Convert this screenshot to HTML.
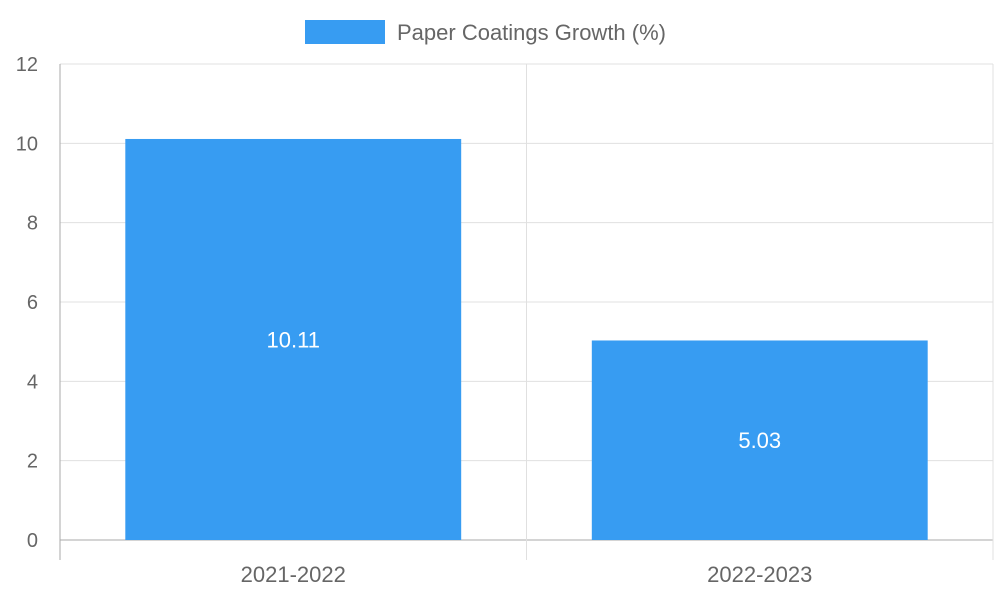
<!DOCTYPE html>
<html><head><meta charset="utf-8"><style>
body{margin:0;background:#fff;font-family:"Liberation Sans",sans-serif;}
svg{display:block}
</style></head><body>
<svg id="chart" width="1000" height="600"></svg>
<script>
const categories=["2021-2022","2022-2023"];
const values=[10.11,5.03];
const yTicks=[0,2,4,6,8,10,12];
const seriesName="Paper Coatings Growth (%)";
const NS="http://www.w3.org/2000/svg";
const svg=document.getElementById('chart');
const L=60,R=993,T=64,B=540,yMax=12;
const y=v=>B-(v/yMax)*(B-T);
const catW=(R-L)/categories.length;
const x=i=>L+catW*i;
function mk(tag,attrs,parent){const e=document.createElementNS(NS,tag);for(const k in attrs)e.setAttribute(k,attrs[k]);(parent||svg).appendChild(e);return e;}
// grid
yTicks.forEach(t=>{
  const g=mk('line',{x1:L,x2:R,y1:y(t),y2:y(t),stroke:t===0?'#aaa':'#e0e0e0','stroke-width':1});
  
  
  const tx=mk('text',{x:L-22,y:y(t)+7,'text-anchor':'end','font-size':20,fill:'#666'});
  tx.textContent=t;
  
  
});
for(let i=0;i<=categories.length;i++){
  const g=mk('line',{x1:x(i),x2:x(i),y1:T,y2:B+20,stroke:i===0?'#aaa':'#e0e0e0','stroke-width':1});
  
  
}
categories.forEach((c,i)=>{
  const bw=catW*0.72,bx=x(i)+(catW-bw)/2;
  const r=mk('rect',{x:bx,y:y(values[i]),width:bw,height:B-y(values[i]),fill:'#379cf2'});
  
  
  const v=mk('text',{x:bx+bw/2,y:(y(values[i])+B)/2+8,'text-anchor':'middle','font-size':22,fill:'#fff'});
  v.textContent=values[i];
  
  
  const l=mk('text',{x:x(i)+catW/2,y:582,'text-anchor':'middle','font-size':22,fill:'#666'});
  l.textContent=c;
  
  
});
const lg=mk('g',{});


mk('rect',{x:305,y:20,width:80,height:24,fill:'#379cf2'},lg);
const lt=mk('text',{x:397,y:40,'font-size':22,fill:'#666'},lg);
lt.textContent=seriesName;
</script>
</body></html>
